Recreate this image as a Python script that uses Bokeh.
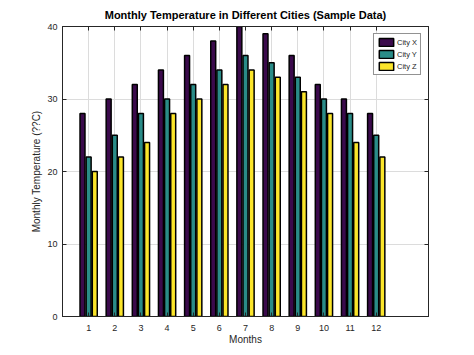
import numpy as np
from bokeh.plotting import figure
from bokeh.models import (ColumnDataSource, Range1d, LinearAxis, FixedTicker,
                          Legend, LegendItem)
from bokeh.transform import dodge
from bokeh.embed import file_html
from bokeh.resources import INLINE

months = [1, 2, 3, 4, 5, 6, 7, 8, 9, 10, 11, 12]
city_x = [28, 30, 32, 34, 36, 38, 40, 39, 36, 32, 30, 28]
city_y = [22, 25, 28, 30, 32, 34, 36, 35, 33, 30, 28, 25]
city_z = [20, 22, 24, 28, 30, 32, 34, 33, 31, 28, 24, 22]
series_names = ["City X", "City Y", "City Z"]
colors = ["#3b0a4c", "#2a8c88", "#fbe52a"]
y_ticks = [0, 10, 20, 30, 40]

src = ColumnDataSource(dict(month=months, x=city_x, y=city_y, z=city_z))

FONT = "Liberation Sans"
TXT = "#262626"

p = figure(width=470, height=350, output_backend="svg", toolbar_location=None,
           x_range=Range1d(0, 14), y_range=Range1d(0, 40),
           min_border_left=62, min_border_right=42, min_border_top=26,
           min_border_bottom=34,
           title="Monthly Temperature in Different Cities (Sample Data)")

p.title.text_font = FONT
p.title.text_font_size = "11px"
p.title.text_font_style = "bold"
p.title.text_color = "#000000"
p.title.align = "center"
p.title.standoff = 12
p.title.offset = 0

offsets = [-0.235, 0.0, 0.235]
renderers = []
for col, off, c in zip(["x", "y", "z"], offsets, colors):
    r = p.vbar(x=dodge("month", off, range=p.x_range), top=col, width=0.19,
               bottom=0, source=src, fill_color=c, line_color="black",
               line_width=1.5)
    renderers.append(r)

for ax in [p.xaxis[0], p.yaxis[0]]:
    ax.major_tick_in = 4
    ax.major_tick_out = 0
    ax.minor_tick_in = 0
    ax.minor_tick_out = 0
    ax.axis_line_color = TXT
    ax.major_tick_line_color = TXT
    ax.major_label_text_font = FONT
    ax.major_label_text_font_size = "9px"
    ax.major_label_text_color = TXT
    ax.axis_label_text_font = FONT
    ax.axis_label_text_font_size = "10px"
    ax.axis_label_text_font_style = "normal"
    ax.axis_label_text_color = TXT

p.xaxis[0].ticker = FixedTicker(ticks=months)
p.yaxis[0].ticker = FixedTicker(ticks=y_ticks)
p.xaxis[0].axis_label = "Months"
p.yaxis[0].axis_label = "Monthly Temperature (??C)"
p.xaxis[0].major_label_standoff = 8
p.xaxis[0].axis_label_standoff = 0
p.yaxis[0].major_label_standoff = 5
p.yaxis[0].axis_label_standoff = 2

top_ax = LinearAxis(ticker=FixedTicker(ticks=months), major_tick_in=4,
                    major_tick_out=0, minor_tick_in=0, minor_tick_out=0,
                    major_label_overrides={m: "" for m in months},
                    major_label_standoff=0,
                    axis_line_color=TXT, major_tick_line_color=TXT)
right_ax = LinearAxis(ticker=FixedTicker(ticks=y_ticks), major_tick_in=4,
                      major_tick_out=0, minor_tick_in=0, minor_tick_out=0,
                      major_label_overrides={t: "" for t in y_ticks},
                      major_label_standoff=0,
                      axis_line_color=TXT, major_tick_line_color=TXT)
p.add_layout(top_ax, "above")
p.add_layout(right_ax, "right")

p.xgrid.ticker = FixedTicker(ticks=months)
p.ygrid.ticker = FixedTicker(ticks=y_ticks)
p.grid.grid_line_color = "#dcdcdc"
p.grid.grid_line_width = 1
p.outline_line_color = TXT

legend = Legend(items=[LegendItem(label=n, renderers=[r])
                       for n, r in zip(series_names, renderers)],
                location="top_right")
legend.margin = 7
legend.padding = 3
legend.spacing = 2
legend.glyph_width = 18
legend.glyph_height = 10
legend.label_text_font = FONT
legend.label_text_font_size = "7.5px"
legend.label_text_color = TXT
legend.label_standoff = 2
legend.label_height = 10
legend.border_line_color = TXT
legend.border_line_width = 1
legend.background_fill_color = "white"
legend.background_fill_alpha = 1
p.add_layout(legend, "center")

p.background_fill_color = "white"
p.border_fill_color = "white"

open("out.html", "w").write(file_html(p, INLINE))
